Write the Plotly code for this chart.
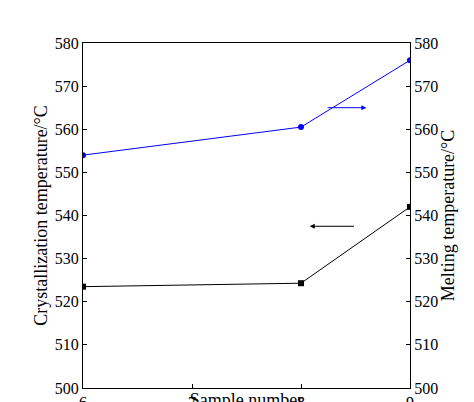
import plotly.graph_objects as go

samples = [6, 8, 9]
crystallization = [523.5, 524.3, 542.0]
melting = [554.0, 560.5, 576.0]
ticks = [500, 510, 520, 530, 540, 550, 560, 570, 580]

fig = go.Figure()
fig.add_trace(go.Scatter(x=samples, y=crystallization, mode="lines+markers",
    line=dict(color="black", width=1), marker=dict(symbol="square", size=6, color="black"), yaxis="y"))
fig.add_trace(go.Scatter(x=samples, y=melting, mode="lines+markers",
    line=dict(color="blue", width=1), marker=dict(symbol="circle", size=6, color="blue"), yaxis="y2"))

font = dict(family="Liberation Serif", size=16, color="black")
tfont = dict(family="Liberation Serif", size=18, color="black")
axcommon = dict(range=[500, 580], tickvals=ticks, showgrid=False, linecolor="black", mirror=False,
    ticks="inside", ticklen=4, tickcolor="black", zeroline=False, tickfont=font, automargin=False)
fig.update_layout(
    width=474, height=402, showlegend=False, plot_bgcolor="white", paper_bgcolor="white",
    margin=dict(l=75, r=72, t=35, b=22),
    font=font,
    xaxis=dict(range=[6, 9], tickvals=[6, 7, 8, 9], showgrid=False, linecolor="black", mirror=True,
        ticks="inside", ticklen=4, tickcolor="black", zeroline=False, tickfont=font, automargin=False,
        title=dict(text="Sample number", font=tfont, standoff=0)),
    yaxis=dict(**axcommon, title=dict(text="Crystallization temperature/°C", font=tfont, standoff=2)),
    yaxis2=dict(**axcommon, overlaying="y", side="right",
        title=dict(text="Melting temperature/°C", font=tfont, standoff=2)),
)
fig.add_annotation(x=8.6, y=565, ax=8.23, ay=565, xref="x", yref="y", axref="x", ayref="y",
    showarrow=True, arrowhead=2, arrowsize=1, arrowwidth=1, arrowcolor="blue", text="")
fig.add_annotation(x=8.08, y=537.5, ax=8.5, ay=537.5, xref="x", yref="y", axref="x", ayref="y",
    showarrow=True, arrowhead=2, arrowsize=1, arrowwidth=1, arrowcolor="black", text="")
fig.write_html("out.html")
